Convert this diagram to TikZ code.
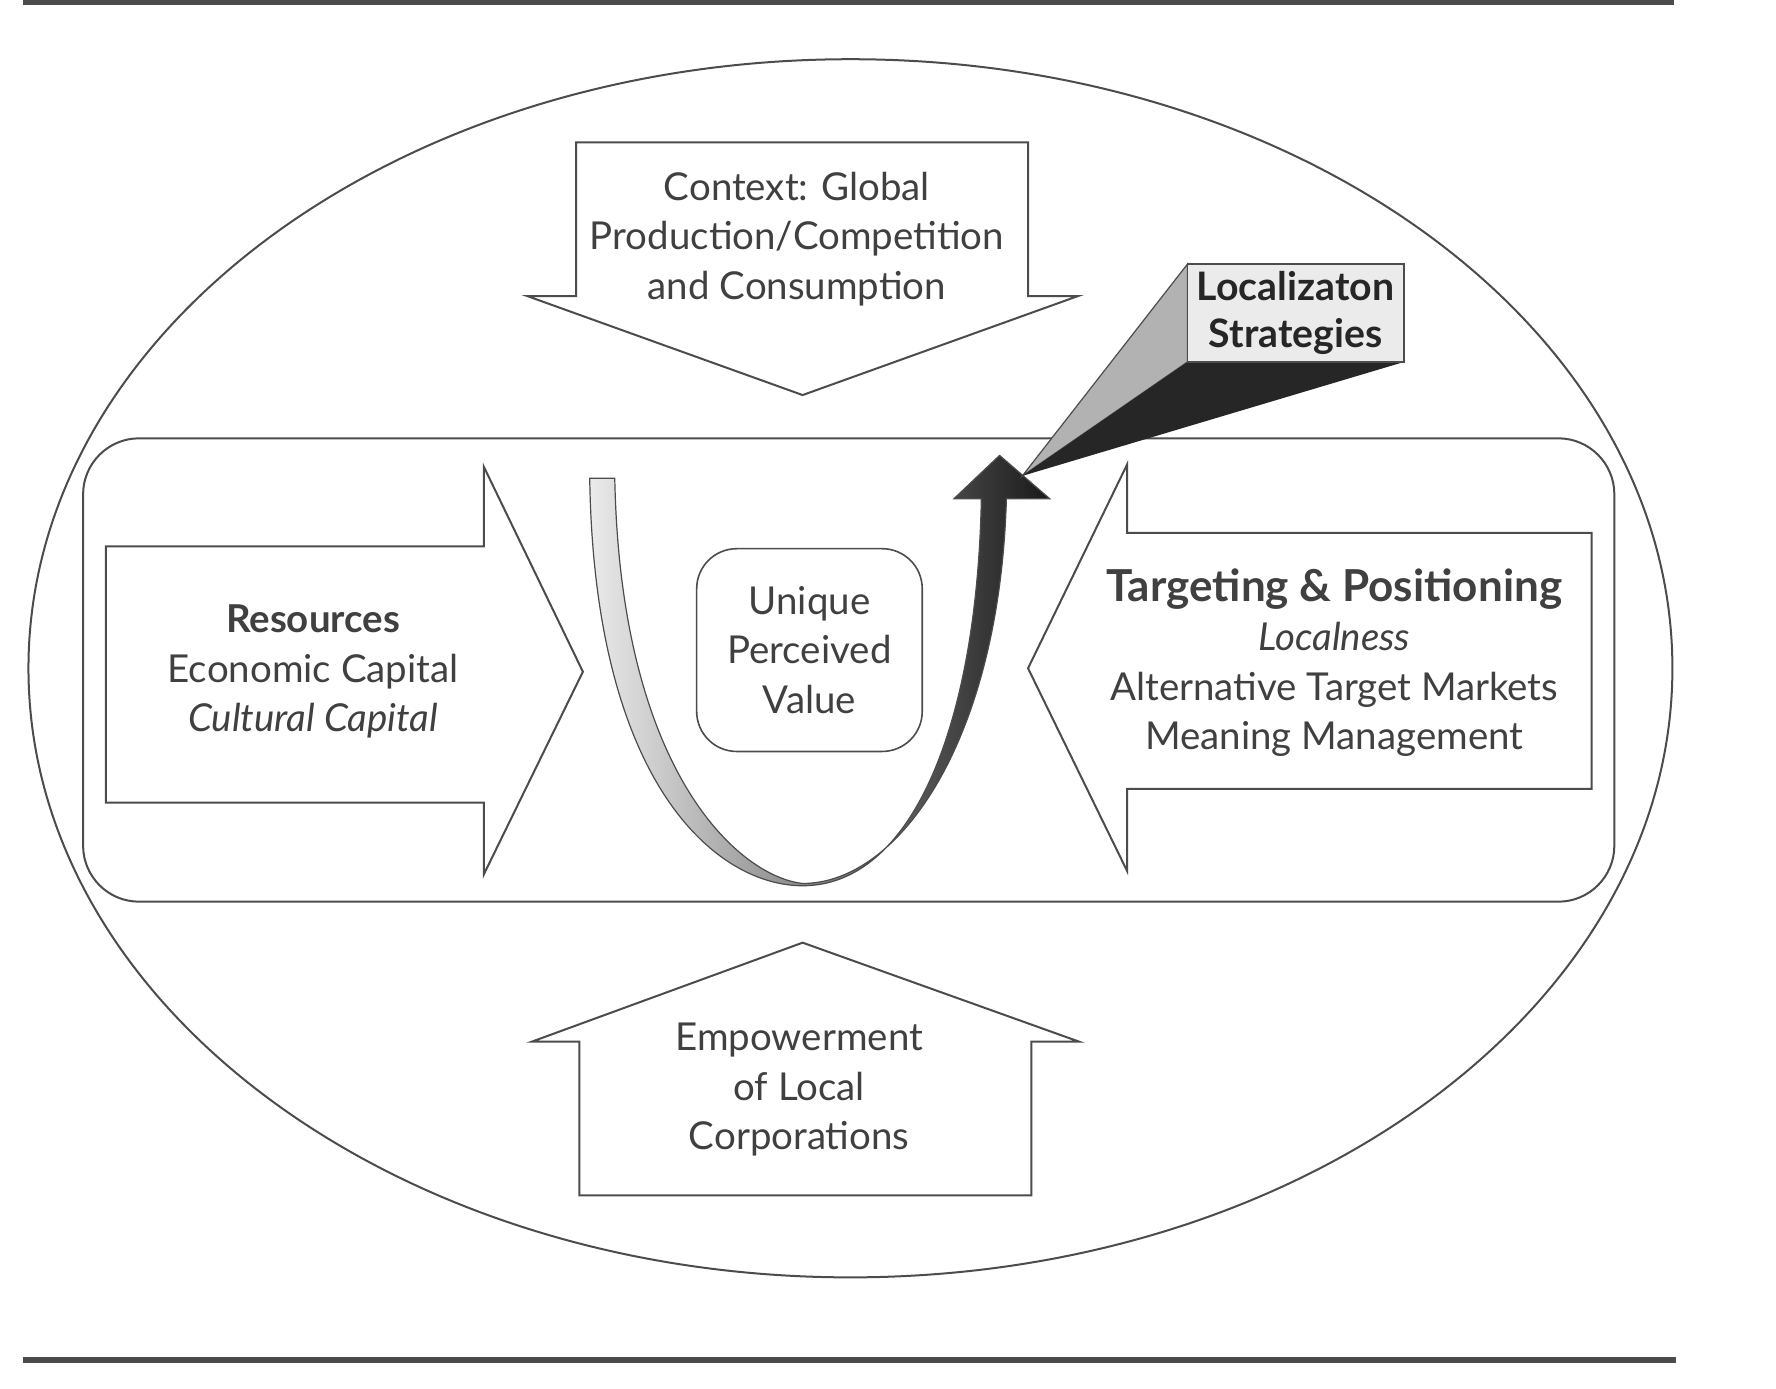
\documentclass[tikz,border=0pt]{standalone}
\usepackage{fontspec}
\setmainfont{Lato}
\begin{document}
\begin{tikzpicture}[x=0.01cm,y=-0.01cm,
  ln/.style={draw=black!70,line width=0.5pt},
  txt/.style={align=center,font=\fontsize{9.6}{12.4}\selectfont\color{black!75}}]
\useasboundingbox (0,0) rectangle (1560,1220);
\draw[black!70,line width=1.5pt] (20,2) -- (1470,2);
\draw[black!70,line width=1.5pt] (20,1195) -- (1472,1195);
\draw[ln] (747,587) ellipse [x radius=722,y radius=-535];
\draw[ln,rounded corners=14pt] (73,385) rectangle (1418,792);
% top arrow
\draw[ln,fill=white] (506,125) -- (903,125) -- (903,260) -- (947,260) -- (705,347) -- (463,260) -- (506,260) -- cycle;
\node[txt] (ctx) at (700,210) {Context: Global\\Production/Competition\\and Consumption};
% bottom arrow
\draw[ln,fill=white] (509,1050) -- (906,1050) -- (906,915) -- (948,915) -- (705,828) -- (467,915) -- (509,915) -- cycle;
\node[txt] (emp) at (702,957) {Empowerment\\of Local\\Corporations};
% left arrow
\draw[ln,fill=white] (93,480) -- (425,480) -- (425,410) -- (512,590) -- (425,768) -- (425,705) -- (93,705) -- cycle;
\node[txt] (res) at (275,590) {{\bfseries Resources}\\Economic Capital\\{\itshape Cultural Capital}};
% right arrow
\draw[ln,fill=white] (1398,468) -- (990,468) -- (990,408) -- (903,587) -- (990,765) -- (990,693) -- (1398,693) -- cycle;
\node[txt] (tp) at (1172,582) {{\bfseries\fontsize{11}{12.4}\selectfont Targeting \& Positioning}\\{\itshape Localness}\\Alternative Target Markets\\Meaning Management};
% center
\node[txt,draw=black!70,rounded corners=10pt,minimum width=1.98cm,minimum height=1.78cm] (upv) at (711,571) {Unique\\Perceived\\Value};
% U ribbon
\shade[left color=black!8,right color=black!90,draw=black!70,line width=0.3pt]
 (518,420) .. controls (522,690) and (630,778) .. (705,778)
 .. controls (800,778) and (858,640) .. (862,438) -- (838,438) -- (878,400) -- (922,438) -- (884,438)
 .. controls (878,650) and (790,776) .. (705,776)
 .. controls (650,770) and (545,680) .. (540,420) -- cycle;
% callout beam
\fill[black!30,draw=black!70,line width=0.3pt] (1043,232) -- (1043,318) -- (898,418) -- cycle;
\fill[black!85] (1043,318) -- (1233,318) -- (898,418) -- cycle;
\node[draw=black!70,fill=black!8,align=center,font=\bfseries\fontsize{9.8}{11.8}\selectfont\color{black!85},minimum width=1.9cm,minimum height=0.86cm,inner sep=0pt] (loc) at (1138,275) {Localizaton\\Strategies};
\end{tikzpicture}
\end{document}
